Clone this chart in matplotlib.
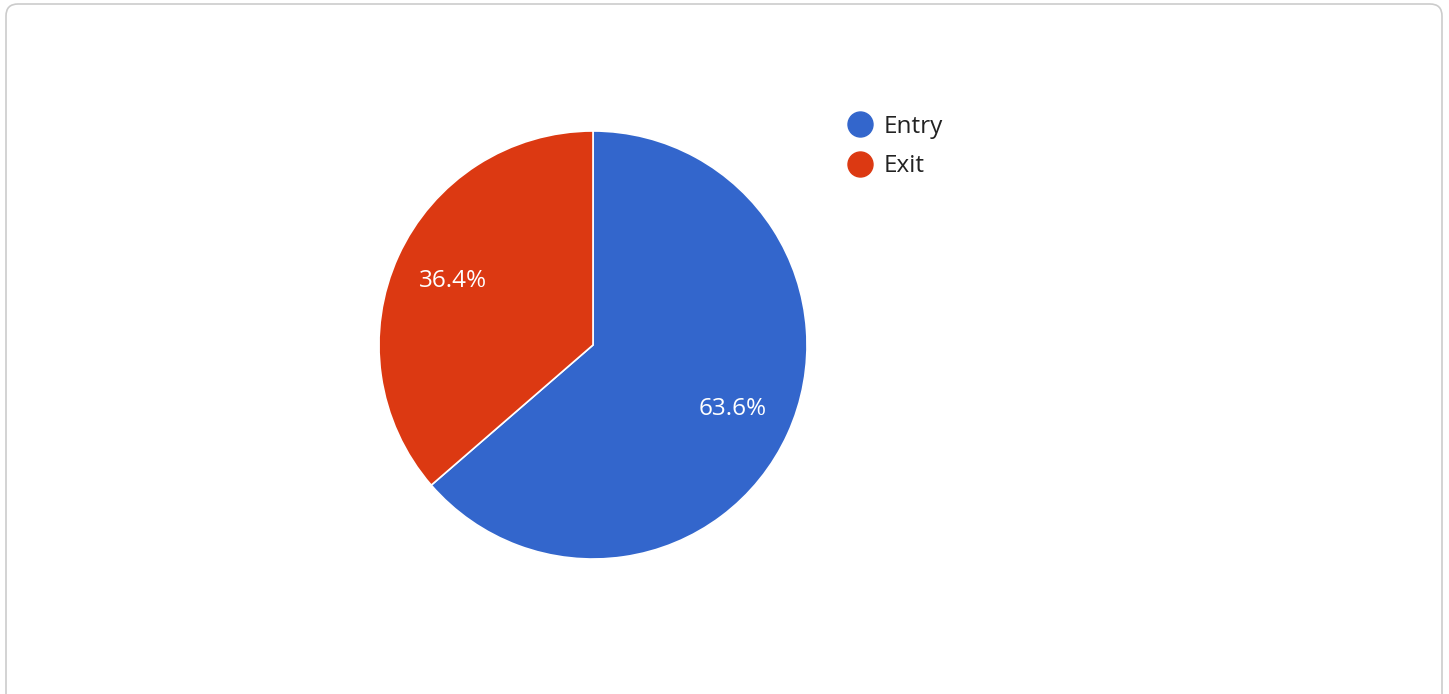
import matplotlib.pyplot as plt
from matplotlib.patches import FancyBboxPatch
from matplotlib.lines import Line2D
from matplotlib.transforms import IdentityTransform

plt.rcParams['font.family'] = ['Open Sans', 'DejaVu Sans']

# dados
labels = ['Entry', 'Exit']
values = [7, 4]
colors = ['#3366CC', '#DC3912']

fig = plt.figure(figsize=(14.49, 6.94), dpi=100)

# moldura arredondada
frame = FancyBboxPatch((6, -20), 1436, 710, boxstyle='round,pad=0,rounding_size=12',
                       facecolor='white', edgecolor='#cccccc', linewidth=1.2,
                       transform=IdentityTransform(), zorder=0)
fig.add_artist(frame)

ax = fig.add_axes([379 / 1449, 135 / 694, 428 / 1449, 428 / 694])
wedges, texts, autotexts = ax.pie(values, colors=colors, startangle=90, counterclock=False,
                                  autopct='%1.1f%%', pctdistance=0.72,
                                  wedgeprops=dict(edgecolor='white', linewidth=1.2),
                                  textprops=dict(color='white', fontsize=17.5))
ax.set_xlim(-1, 1)
ax.set_ylim(-1, 1)
ax.set_aspect('equal')
ax.axis('off')

handles = [Line2D([], [], linestyle='none', marker='o', markersize=18,
                  markerfacecolor=c, markeredgecolor=c) for c in colors]
fig.legend(handles, labels, loc='upper left', bbox_to_anchor=(848 / 1449, 1 - 115 / 694),
           frameon=False, borderaxespad=0, borderpad=0, handlelength=1,
           handletextpad=0.47, labelspacing=0.63, fontsize=17.5, labelcolor='#222222')

fig.savefig('out.png', dpi=100)
